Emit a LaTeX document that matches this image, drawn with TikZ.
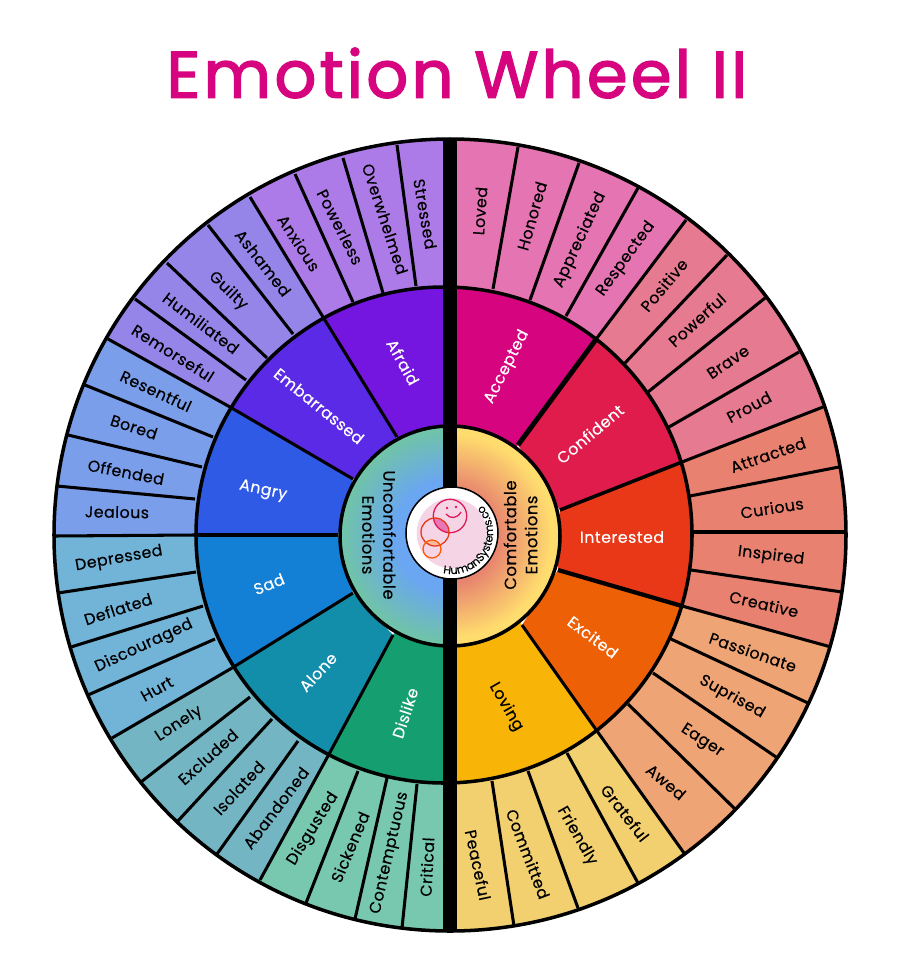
\documentclass[tikz,border=0pt]{standalone}
\usepackage{fontspec}
\usepackage{xcolor}
\usepackage{tikz}
\usetikzlibrary{calc,decorations.text}
\setmainfont{Poppins}[LetterSpace=3,FakeBold=0.35]
\newfontfamily\titlefont{Poppins}[LetterSpace=5,FakeBold=2.2]
\newfontfamily\logofont{Poppins}[LetterSpace=4,FakeBold=0.2]

% outer ring
\definecolor{accpale}{HTML}{E574B2}
\definecolor{confpale}{HTML}{E67A90}
\definecolor{intpale}{HTML}{E8816F}
\definecolor{excpale}{HTML}{EEA474}
\definecolor{lovpale}{HTML}{F2D070}
\definecolor{dislpale}{HTML}{78C8B0}
\definecolor{alonepale}{HTML}{74B5C4}
\definecolor{sadpale}{HTML}{72B3D8}
\definecolor{angrypale}{HTML}{7A9EEA}
\definecolor{embpale}{HTML}{9585E8}
\definecolor{afrpale}{HTML}{AD7BE8}
% middle ring
\definecolor{acc}{HTML}{D6047E}
\definecolor{conf}{HTML}{E01C4C}
\definecolor{inter}{HTML}{E83818}
\definecolor{exc}{HTML}{EE6005}
\definecolor{lov}{HTML}{F9B507}
\definecolor{disl}{HTML}{159E70}
\definecolor{alone}{HTML}{128EAA}
\definecolor{sad}{HTML}{1480D5}
\definecolor{angry}{HTML}{2E5AE6}
\definecolor{emb}{HTML}{5A2AE6}
\definecolor{afr}{HTML}{7415E0}
% centre
\definecolor{logopink}{HTML}{F5D5E5}
\definecolor{glowsalmon}{HTML}{E8856F}
\definecolor{glowyellow}{HTML}{FFDC6E}
\definecolor{glowblue}{HTML}{6AA6F2}
\definecolor{glowgreen}{HTML}{70C4A8}

\begin{document}
\begin{tikzpicture}[x=0.03cm,y=-0.03cm,
    spoke/.style={draw=black, line width=2.6pt},
    rim/.style={draw=black, line width=3pt},
    feel/.style={font=\fontsize{13.5}{15}\selectfont, text=black, inner sep=0pt},
    core/.style={font=\fontsize{13.5}{15}\selectfont, text=white, inner sep=0pt},
    centre/.style={font=\fontsize{14}{18}\selectfont, text=black, inner sep=0pt, align=center}
]
\useasboundingbox (0,0) rectangle (900,969);

% Title
\node[text=acc, inner sep=0pt, font=\titlefont\fontsize{56}{60}\selectfont] (title) at (457,73) {Emotion Wheel II};

% Group borders, middle ring end and rim end
\coordinate (topa) at (450,287);    \coordinate (topb) at (450,138);
\coordinate (ra) at (597,338);      \coordinate (rb) at (686,220);
\coordinate (sa) at (682,462);      \coordinate (sb) at (823,407);
\coordinate (ta) at (682,606);      \coordinate (tb) at (831,647);
\coordinate (ua) at (597,731);      \coordinate (ub) at (684,853);
\coordinate (bota) at (450,783);    \coordinate (botb) at (450,932);
\coordinate (va) at (328,756);      \coordinate (vb) at (260,880);
\coordinate (wa) at (232,668);      \coordinate (wb) at (112,738);
\coordinate (xa) at (194,535);      \coordinate (xb) at (54,536);
\coordinate (ya) at (230,407);      \coordinate (yb) at (108,339);
\coordinate (za) at (323,317);      \coordinate (zb) at (250,197);

% Outer ring colours
\begin{scope}
\clip (450,535) circle[radius=396];
\fill[accpale] (topa) -- ($(topa)!1.6!(topb)$) -- ($(ra)!1.6!(rb)$) -- (ra) -- cycle;
\fill[confpale] (ra) -- ($(ra)!1.6!(rb)$) -- ($(sa)!1.6!(sb)$) -- (sa) -- cycle;
\fill[intpale] (sa) -- ($(sa)!1.6!(sb)$) -- ($(ta)!1.6!(tb)$) -- (ta) -- cycle;
\fill[excpale] (ta) -- ($(ta)!1.6!(tb)$) -- ($(ua)!1.6!(ub)$) -- (ua) -- cycle;
\fill[lovpale] (ua) -- ($(ua)!1.6!(ub)$) -- ($(bota)!1.6!(botb)$) -- (bota) -- cycle;
\fill[dislpale] (bota) -- ($(bota)!1.6!(botb)$) -- ($(va)!1.6!(vb)$) -- (va) -- cycle;
\fill[alonepale] (va) -- ($(va)!1.6!(vb)$) -- ($(wa)!1.6!(wb)$) -- (wa) -- cycle;
\fill[sadpale] (wa) -- ($(wa)!1.6!(wb)$) -- ($(xa)!1.6!(xb)$) -- (xa) -- cycle;
\fill[angrypale] (xa) -- ($(xa)!1.6!(xb)$) -- ($(ya)!1.6!(yb)$) -- (ya) -- cycle;
\fill[embpale] (ya) -- ($(ya)!1.6!(yb)$) -- ($(za)!1.6!(zb)$) -- (za) -- cycle;
\fill[afrpale] (za) -- ($(za)!1.6!(zb)$) -- ($(topa)!1.6!(topb)$) -- (topa) -- cycle;
\end{scope}

% Outer ring dividers
\draw[spoke] (493,289) -- (518,147);
\draw[spoke] (530,300) -- (579,163);
\draw[spoke] (566,316) -- (638,188);
\draw[spoke] (ra) -- (rb);
\draw[spoke] (625,363) -- (727,255);
\draw[spoke] (648,392) -- (765,298);
\draw[spoke] (669,427) -- (799,352);
\draw[spoke] (sa) -- (sb);
\draw[spoke] (690,496) -- (839,467);
\draw[spoke] (692,532) -- (846,532);
\draw[spoke] (691,570) -- (842,592);
\draw[spoke] (ta) -- (tb);
\draw[spoke] (671,639) -- (808,703);
\draw[spoke] (653,673) -- (776,757);
\draw[spoke] (628,704) -- (735,809);
\draw[spoke] (ua) -- (ub);
\draw[spoke] (567,753) -- (638,883);
\draw[spoke] (528,771) -- (578,908);
\draw[spoke] (492,781) -- (514,926);
\draw[spoke] (417,784) -- (402,928);
\draw[spoke] (387,778) -- (355,919);
\draw[spoke] (358,771) -- (306,903);
\draw[spoke] (va) -- (vb);
\draw[spoke] (298,741) -- (217,854);
\draw[spoke] (272,719) -- (177,822);
\draw[spoke] (250,697) -- (141,782);
\draw[spoke] (wa) -- (wb);
\draw[spoke] (215,639) -- (88,695);
\draw[spoke] (203,606) -- (71,647);
\draw[spoke] (196,572) -- (58,593);
\draw[spoke] (xa) -- (xb);
\draw[spoke] (195,499) -- (57,486);
\draw[spoke] (202,467) -- (68,435);
\draw[spoke] (213,437) -- (85,385);
\draw[spoke] (ya) -- (yb);
\draw[spoke] (246,380) -- (135,299);
\draw[spoke] (267,358) -- (167,263);
\draw[spoke] (293,334) -- (208,225);
\draw[spoke] (za) -- (zb);
\draw[spoke] (353,302) -- (295,174);
\draw[spoke] (383,293) -- (343,158);
\draw[spoke] (416,286) -- (397,145);
\draw[rim] (450,535) circle[radius=396];

% Middle ring colours
\coordinate (mid) at (450,535);
\coordinate (ia) at (518,445);
\coordinate (ib) at (560,510);
\coordinate (ic) at (558,570);
\coordinate (id) at (522,625);
\coordinate (ie) at (393,635);
\coordinate (ig) at (353,593);
\coordinate (ih) at (338,535);
\coordinate (ij) at (353,479);
\coordinate (ik) at (397,437);
\begin{scope}
\clip (444,535) circle[radius=248];
\fill[acc] (mid) -- ($(mid)!2!(topa)$) -- ($(ia)!2!(ra)$) -- (ia) -- cycle;
\fill[conf] (ia) -- ($(ia)!2!(ra)$) -- ($(ib)!2!(sa)$) -- (ib) -- cycle;
\fill[inter] (ib) -- ($(ib)!2!(sa)$) -- ($(ic)!2!(ta)$) -- (ic) -- cycle;
\fill[exc] (ic) -- ($(ic)!2!(ta)$) -- ($(id)!2!(ua)$) -- (id) -- cycle;
\fill[lov] (id) -- ($(id)!2!(ua)$) -- ($(mid)!2!(bota)$) -- (mid) -- cycle;
\fill[disl] (mid) -- ($(mid)!2!(bota)$) -- ($(ie)!2!(va)$) -- (ie) -- cycle;
\fill[alone] (ie) -- ($(ie)!2!(va)$) -- ($(ig)!2!(wa)$) -- (ig) -- cycle;
\fill[sad] (ig) -- ($(ig)!2!(wa)$) -- ($(ih)!2!(xa)$) -- (ih) -- cycle;
\fill[angry] (ih) -- ($(ih)!2!(xa)$) -- ($(ij)!2!(ya)$) -- (ij) -- cycle;
\fill[emb] (ij) -- ($(ij)!2!(ya)$) -- ($(ik)!2!(za)$) -- (ik) -- cycle;
\fill[afr] (ik) -- ($(ik)!2!(za)$) -- ($(mid)!2!(topa)$) -- (mid) -- cycle;
\end{scope}

% Middle ring dividers
\draw[spoke, line width=4.2pt] (ia) -- (ra);
\draw[spoke, line width=3pt] (ib) -- (sa);
\draw[spoke, line width=3.6pt] (ic) -- (ta);
\draw[spoke] (id) -- (ua);
\draw[spoke] (ie) -- (va);
\draw[spoke] (ig) -- (wa);
\draw[spoke] (ih) -- (xa);
\draw[spoke] (ij) -- (ya);
\draw[spoke] (ik) -- (za);
\draw[rim] (444,535) circle[radius=248];

% Centre circle
\begin{scope}
\clip (450,400) rectangle (600,670);
\foreach \r [evaluate=\r as \pct using {max(0,min(100,(\r-48)*1.85))}] in {110,109,...,44}
    \fill[glowyellow!\pct!glowsalmon] (450,536) circle[radius=\r];
\end{scope}
\begin{scope}
\clip (300,400) rectangle (450,670);
\foreach \r [evaluate=\r as \pct using {max(0,min(100,(\r-55)*1.9))}] in {110,109,...,44}
    \fill[glowgreen!\pct!glowblue] (450,536) circle[radius=\r];
\end{scope}
\draw[rim] (450,536) circle[radius=110];

% Black bar
\fill[black] (443,138) rectangle (457,932);

% Logo
\fill[white] (452,533) circle[radius=46];
\draw[black, line width=1.3pt] (452,533) circle[radius=46];
\fill[logopink] (451.7,533.3) circle[radius=35];
\begin{scope}
\clip (450,516) circle[radius=16.7];
\fill[acc!45!logopink] (435,532) circle[radius=14];
\end{scope}
\begin{scope}
\clip (435,532) circle[radius=14];
\fill[orange!30!logopink] (432,549) circle[radius=9];
\end{scope}
\draw[conf!80!acc, line width=1.1pt] (450,516) circle[radius=16.7];
\draw[inter, line width=1.1pt] (435,532) circle[radius=14];
\draw[orange!70!red, line width=1.1pt] (432,549) circle[radius=9];
\fill[conf!80!acc] (447,508) circle[radius=1.4];
\fill[conf!80!acc] (456,507) circle[radius=1.4];
\draw[conf!80!acc, line width=1.1pt] (446,514) .. controls (450,519) and (457,519) .. (461,512);
\begin{scope}[shift={(452,533)}, y=0.03cm]
\path[decorate, decoration={text along path, text align=center, text={|\logofont\fontsize{9.5}{10}\selectfont|HumanSystems.co}}]
    (240:41) arc[start angle=240, end angle=420, radius=41];
\end{scope}

% Centre labels
\node[centre, rotate=-90] (uncomfortable) at (379,535) {Uncomfortable\\Emotions};
\node[centre, rotate=90] (comfortable) at (520.5,535) {Comfortable\\Emotions};

% Middle ring labels
\node[core, rotate=63] (accepted) at (507,367) {Accepted};
\node[core, rotate=40] (confident) at (590,434) {Confident};
\node[core] (interested) at (622,537) {Interested};
\node[core, rotate=-37] (excited) at (593,637) {Excited};
\node[feel, rotate=-60] (loving) at (506,707) {Loving};
\node[core, rotate=72] (dislike) at (405,713) {Dislike};
\node[core, rotate=47] (aloneword) at (318,672) {Alone};
\node[core, rotate=22] (sadword) at (269,584) {Sad};
\node[core, rotate=-12] (angryword) at (263,491) {Angry};
\node[core, rotate=-39] (embarrassed) at (319,406) {Embarrassed};
\node[core, rotate=-61] (afraid) at (403,362) {Afraid};

% Outer ring labels
\node[feel, rotate=86] (loved) at (480,211) {Loved};
\node[feel, rotate=74] (honored) at (532,216) {Honored};
\node[feel, rotate=65] (appreciated) at (580,240) {Appreciated};
\node[feel, rotate=54] (respected) at (626,259) {Respected};
\node[feel, rotate=50] (positive) at (664,285) {Positive};
\node[feel, rotate=42] (powerful) at (697,320) {Powerful};
\node[feel, rotate=34] (brave) at (728,362) {Brave};
\node[feel, rotate=28] (proud) at (749,407) {Proud};
\node[feel, rotate=19] (attracted) at (768,455) {Attracted};
\node[feel, rotate=9] (curious) at (772,508) {Curious};
\node[feel, rotate=-7] (inspired) at (771,556) {Inspired};
\node[feel, rotate=-13] (creative) at (764,604) {Creative};
\node[feel, rotate=-19] (passionate) at (753,652) {Passionate};
\node[feel, rotate=-29] (suprised) at (732,697) {Suprised};
\node[feel, rotate=-33] (eager) at (702,741) {Eager};
\node[feel, rotate=-40] (awed) at (666,782) {Awed};
\node[feel, rotate=-52] (grateful) at (625,813) {Grateful};
\node[feel, rotate=-60] (friendly) at (577,836) {Friendly};
\node[feel, rotate=-69] (committed) at (528,854) {Committed};
\node[feel, rotate=-78] (peaceful) at (478,865) {Peaceful};
\node[feel, rotate=87] (critical) at (427,867) {Critical};
\node[feel, rotate=77] (contemptuous) at (390,853) {Contemptuous};
\node[feel, rotate=67] (sickened) at (350,847) {Sickened};
\node[feel, rotate=58] (disgusted) at (313,829) {Disgusted};
\node[feel, rotate=53] (abandoned) at (276,808) {Abandoned};
\node[feel, rotate=47] (isolated) at (239,788) {Isolated};
\node[feel, rotate=42] (excluded) at (208,757) {Excluded};
\node[feel, rotate=33] (lonely) at (179,724) {Lonely};
\node[feel, rotate=29] (hurt) at (157,689) {Hurt};
\node[feel, rotate=25] (discouraged) at (144,646) {Discouraged};
\node[feel, rotate=18] (deflated) at (118,609) {Deflated};
\node[feel, rotate=10] (depressed) at (119,559) {Depressed};
\node[feel, rotate=-1] (jealous) at (117,512) {Jealous};
\node[feel, rotate=-11] (offended) at (126,472) {Offended};
\node[feel, rotate=-18] (bored) at (134,427) {Bored};
\node[feel, rotate=-25] (resentful) at (156,391) {Resentful};
\node[feel, rotate=-32] (remorseful) at (173,353) {Remorseful};
\node[feel, rotate=-37] (humiliated) at (201,323) {Humiliated};
\node[feel, rotate=-44] (guilty) at (228,291) {Guilty};
\node[feel, rotate=-52] (ashamed) at (263,263) {Ashamed};
\node[feel, rotate=-57] (anxious) at (299,243) {Anxious};
\node[feel, rotate=-63] (powerless) at (340,227) {Powerless};
\node[feel, rotate=-72] (overwhelmed) at (385,219) {Overwhelmed};
\node[feel, rotate=-80] (stressed) at (425,214) {Stressed};

\end{tikzpicture}
\end{document}
